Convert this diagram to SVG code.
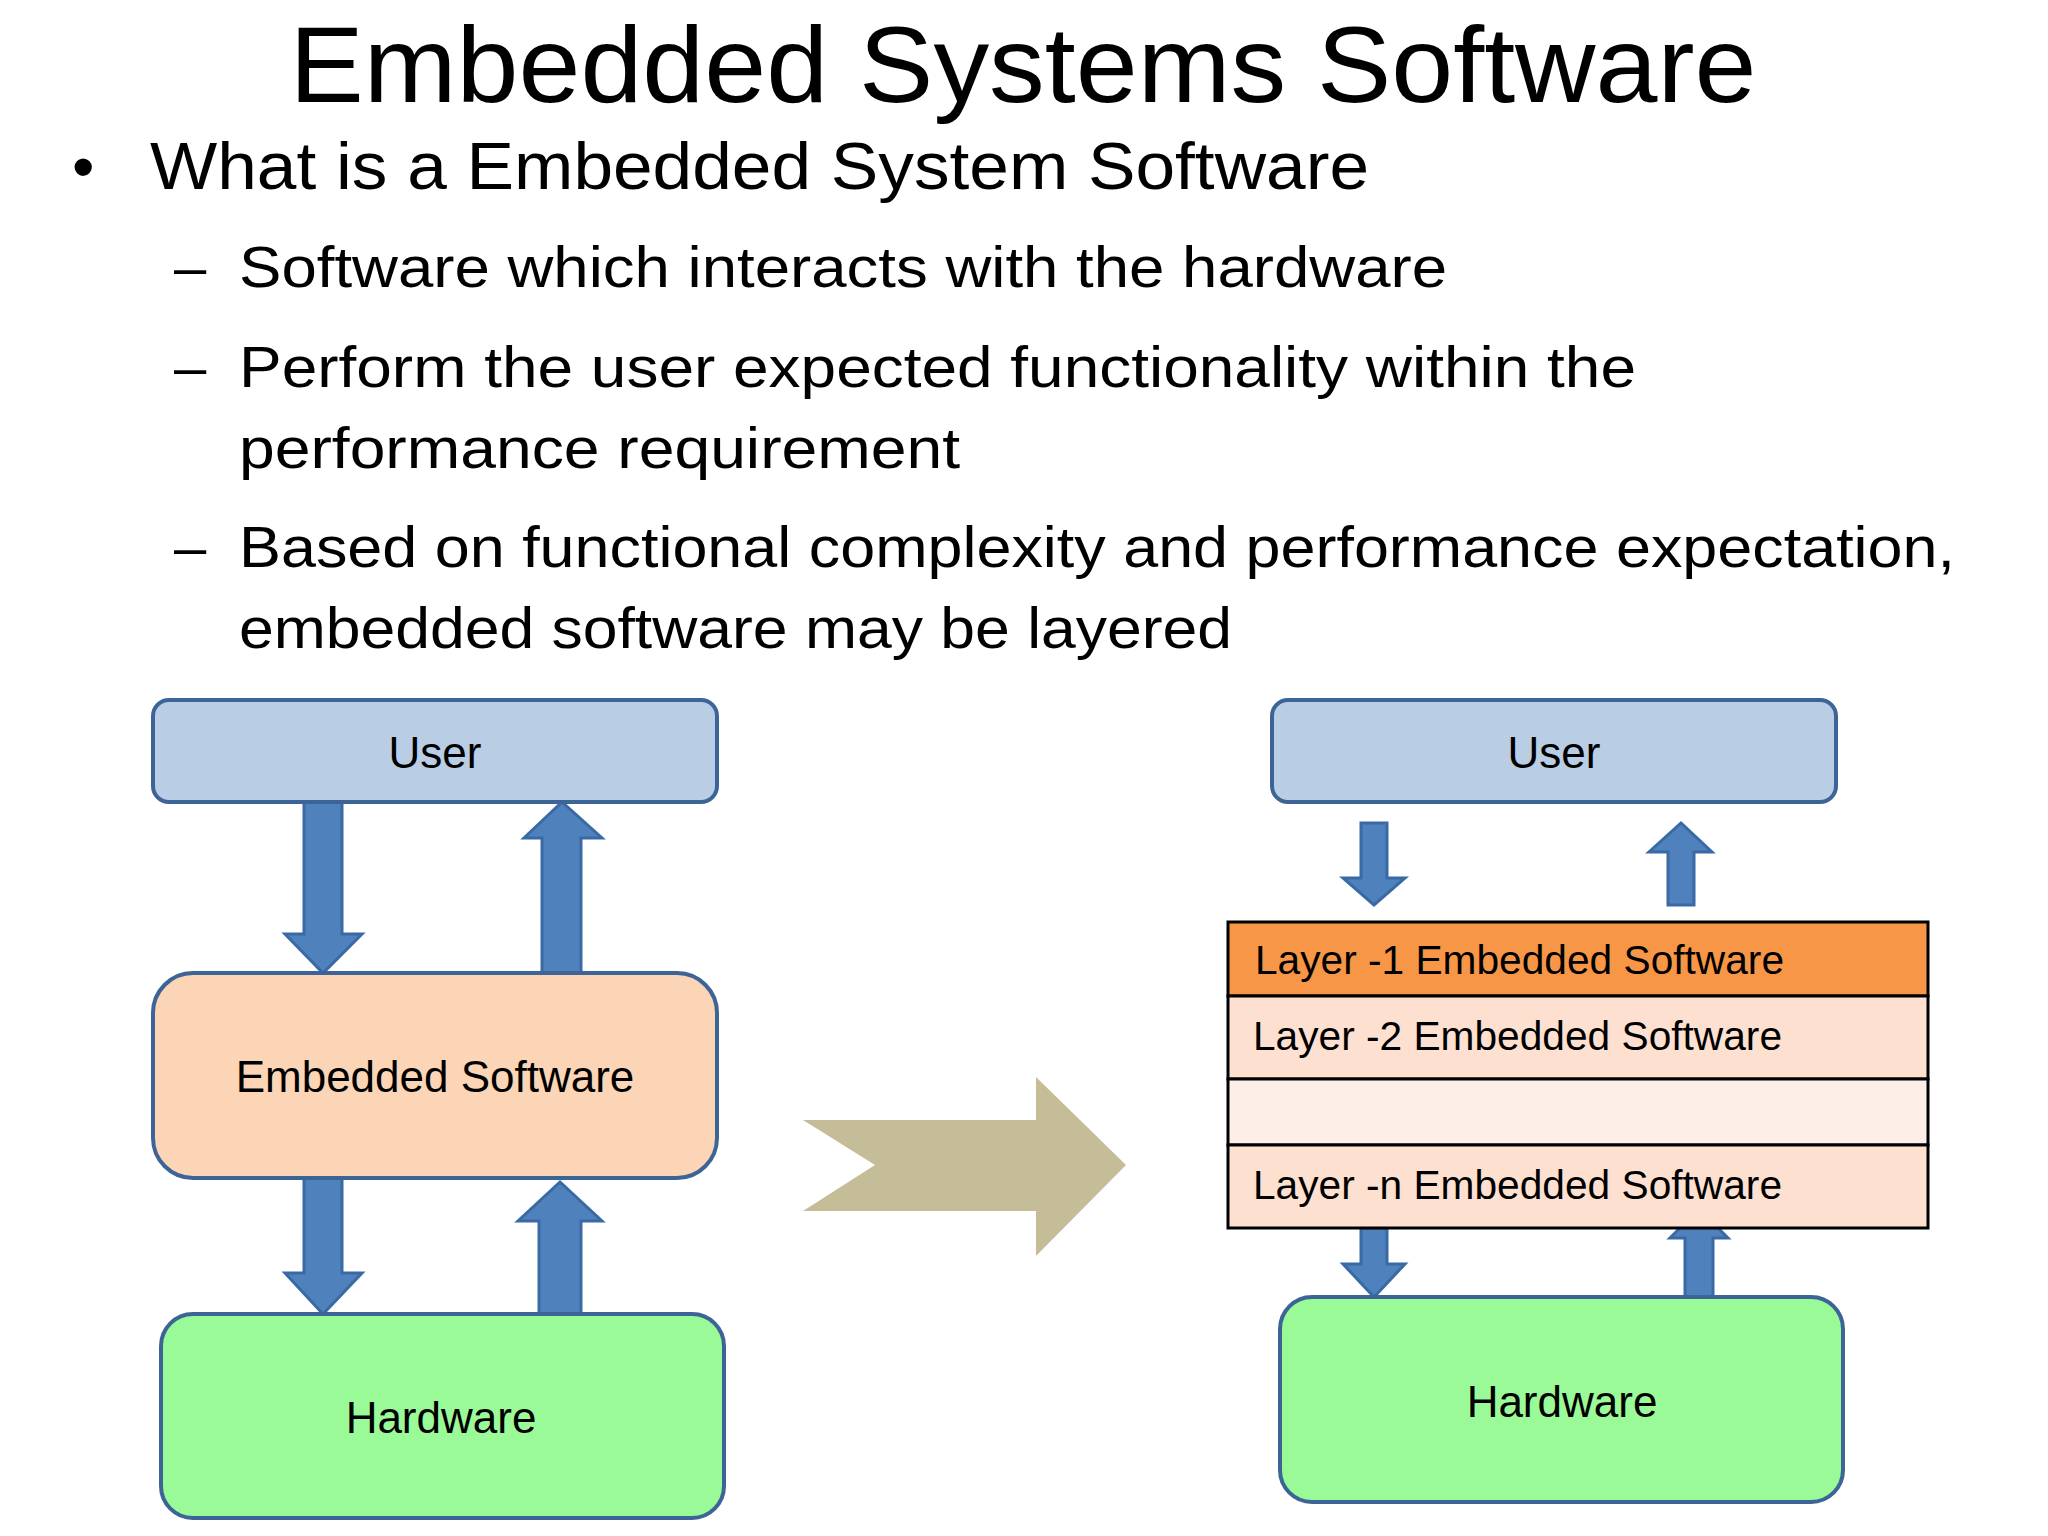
<svg xmlns="http://www.w3.org/2000/svg" width="2048" height="1536" viewBox="0 0 2048 1536">
<style>
text{font-family:"Liberation Sans","Open Sans",sans-serif;fill:#000}
.b{font-size:58px}
.n{font-size:44px;text-anchor:middle}
.l{font-size:40px}
.box{stroke:#3c6496;stroke-width:4}
.ar{fill:#4f81bd;stroke:#3a6aa5;stroke-width:3}
.row{stroke:#000;stroke-width:3}
</style>
<rect width="2048" height="1536" fill="#fff"/>
<text x="1023" y="102" font-size="108" text-anchor="middle" textLength="1467" lengthAdjust="spacingAndGlyphs">Embedded Systems Software</text>
<text x="72" y="189" font-size="64">•</text>
<text x="150" y="189" font-size="66" textLength="1219" lengthAdjust="spacingAndGlyphs">What is a Embedded System Software</text>
<g class="b">
<text x="174" y="287">–</text><text x="239" y="287" textLength="1208" lengthAdjust="spacingAndGlyphs">Software which interacts with the hardware</text>
<text x="174" y="387">–</text><text x="239" y="387" textLength="1397" lengthAdjust="spacingAndGlyphs">Perform the user expected functionality within the</text>
<text x="239" y="468" textLength="721" lengthAdjust="spacingAndGlyphs">performance requirement</text>
<text x="174" y="567">–</text><text x="239" y="567" textLength="1716" lengthAdjust="spacingAndGlyphs">Based on functional complexity and performance expectation,</text>
<text x="239" y="648" textLength="993" lengthAdjust="spacingAndGlyphs">embedded software may be layered</text>
</g>
<g id="connectors">
<polygon class="ar" points="304,802 342,802 342,934 362,934 323,973 285,934 304,934"/>
<polygon class="ar" points="542,973 581,973 581,838 602,838 562,802 524,838 542,838"/>
<polygon class="ar" points="304,1178 342,1178 342,1273 362,1273 323,1314 285,1273 304,1273"/>
<polygon class="ar" points="539,1314 581,1314 581,1221 602,1221 560,1182 518,1221 539,1221"/>
<polygon class="ar" points="1361,823 1387,823 1387,878 1405,878 1374,905 1343,878 1361,878"/>
<polygon class="ar" points="1668,905 1694,905 1694,852 1712,852 1681,823 1649,852 1668,852"/>
<polygon class="ar" points="1361,1228 1387,1228 1387,1264 1405,1264 1374,1297 1343,1264 1361,1264"/>
<polygon class="ar" points="1685,1297 1713,1297 1713,1238 1728,1238 1699,1209 1670,1238 1685,1238"/>
<polygon fill="#c4bd97" points="803,1120 1036,1120 1036,1077 1126,1165 1036,1256 1036,1211 803,1211 875,1165"/>
</g>
<g id="user-left"><rect class="box" x="153" y="700" width="564" height="102" rx="16" fill="#b9cde5"/><text class="n" x="435" y="768">User</text></g>
<g id="embedded"><rect class="box" x="153" y="973" width="564" height="205" rx="40" fill="#fbd5b5"/><text class="n" x="435" y="1092">Embedded Software</text></g>
<g id="hardware-left"><rect class="box" x="161" y="1314" width="563" height="204" rx="32" fill="#9afa98"/><text class="n" x="441" y="1433">Hardware</text></g>
<g id="user-right"><rect class="box" x="1272" y="700" width="564" height="102" rx="16" fill="#b9cde5"/><text class="n" x="1554" y="768">User</text></g>
<g id="layers">
<rect class="row" x="1228" y="922" width="700" height="74" fill="#f79646"/>
<rect class="row" x="1228" y="996" width="700" height="83" fill="#fde0d0"/>
<rect class="row" x="1228" y="1079" width="700" height="66" fill="#fdeee8"/>
<rect class="row" x="1228" y="1145" width="700" height="83" fill="#fde0d0"/>
<text class="l" x="1255" y="974" textLength="529" lengthAdjust="spacingAndGlyphs">Layer -1 Embedded Software</text>
<text class="l" x="1253" y="1050" textLength="529" lengthAdjust="spacingAndGlyphs">Layer -2 Embedded Software</text>
<text class="l" x="1253" y="1199" textLength="529" lengthAdjust="spacingAndGlyphs">Layer -n Embedded Software</text>
</g>
<g id="hardware-right"><rect class="box" x="1280" y="1297" width="563" height="205" rx="32" fill="#9afa98"/><text class="n" x="1562" y="1417">Hardware</text></g>
</svg>
